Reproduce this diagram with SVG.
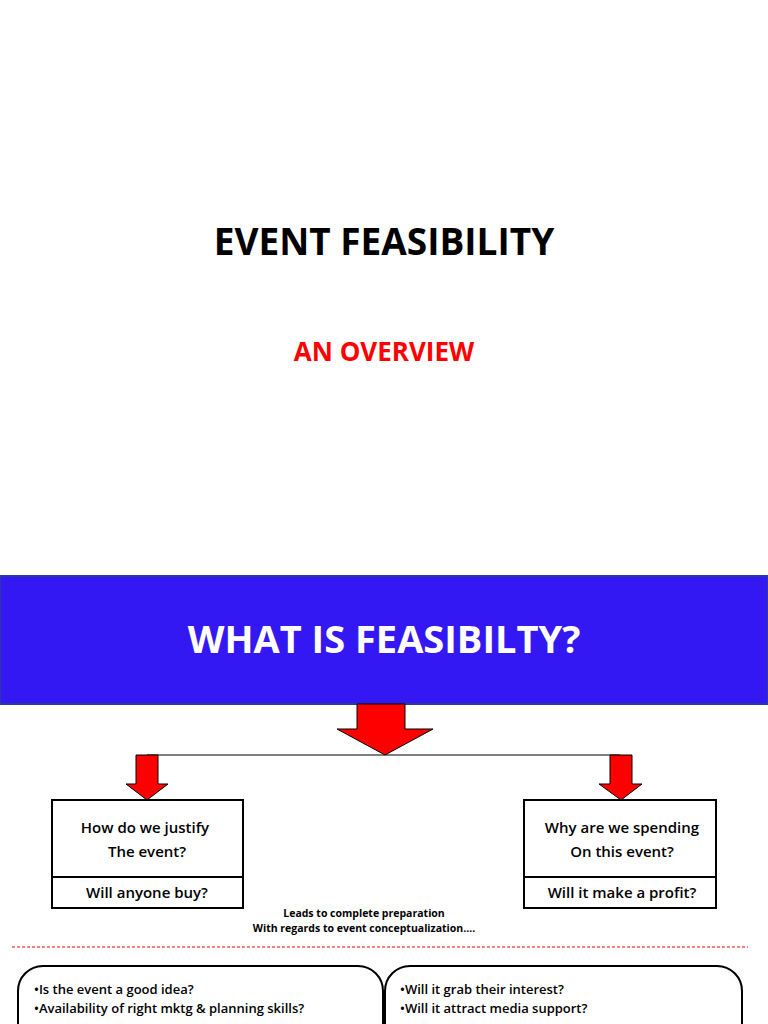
<svg xmlns="http://www.w3.org/2000/svg" width="768" height="1024" viewBox="0 0 768 1024">
<style>
text{font-family:"Open Sans","Liberation Sans",sans-serif;font-weight:bold;text-anchor:middle}
.box{fill:#fff;stroke:#000;stroke-width:2}
.arr{fill:#f00;stroke:#000;stroke-width:1}
.q{font-size:15px;font-weight:600}
.b{font-size:13px;font-weight:600;text-anchor:start}
</style>
<rect width="768" height="1024" fill="#fff"/>
<text x="384" y="255" font-size="37" fill="#000">EVENT FEASIBILITY</text>
<text x="384" y="361" font-size="26" fill="#f00">AN OVERVIEW</text>
<g id="banner"><rect x="0" y="576" width="768" height="128" fill="#3418F4" stroke="#2a3a9a" stroke-width="2"/>
<text x="384" y="653" font-size="38" fill="#fff">WHAT IS FEASIBILTY?</text></g>
<g id="connectors">
<line x1="147" y1="755" x2="620" y2="755" stroke="#000" stroke-width="1"/>
<polygon class="arr" points="357,704 405,704 405,729 433,729 385,755 337,729 357,729"/>
<polygon class="arr" points="136,755 158,755 158,784 168,784 147,800 126,784 136,784"/>
<polygon class="arr" points="610,755 632,755 632,784 642,784 621,800 599,784 610,784"/>
<line x1="12" y1="947" x2="748" y2="947" stroke="#f00" stroke-width="1" stroke-dasharray="3,2"/>
</g>
<g id="left">
<rect class="box" x="52" y="800" width="191" height="108"/>
<line x1="52" y1="877" x2="243" y2="877" stroke="#000" stroke-width="2"/>
<text class="q" x="145" y="833">How do we justify</text>
<text class="q" x="147" y="857">The event?</text>
<text class="q" x="147" y="898">Will anyone buy?</text></g>
<g id="right">
<rect class="box" x="524" y="800" width="192" height="108"/>
<line x1="524" y1="877" x2="716" y2="877" stroke="#000" stroke-width="2"/>
<text class="q" x="622" y="833">Why are we spending</text>
<text class="q" x="622" y="857">On this event?</text>
<text class="q" x="622" y="898">Will it make a profit?</text></g>
<g id="note">
<text x="364" y="917" font-size="10.5" font-weight="600">Leads to complete preparation</text>
<text x="364" y="932" font-size="10.5" font-weight="600">With regards to event conceptualization….</text></g>
<g id="bl"><rect class="box" x="18" y="966" width="365" height="90" rx="25"/>
<text class="b" x="34" y="994">•Is the event a good idea?</text>
<text class="b" x="34" y="1013">•Availability of right mktg &amp; planning skills?</text></g>
<g id="br"><rect class="box" x="385" y="966" width="357" height="90" rx="25"/>
<text class="b" x="400" y="994">•Will it grab their interest?</text>
<text class="b" x="400" y="1013">•Will it attract media support?</text></g>
</svg>
